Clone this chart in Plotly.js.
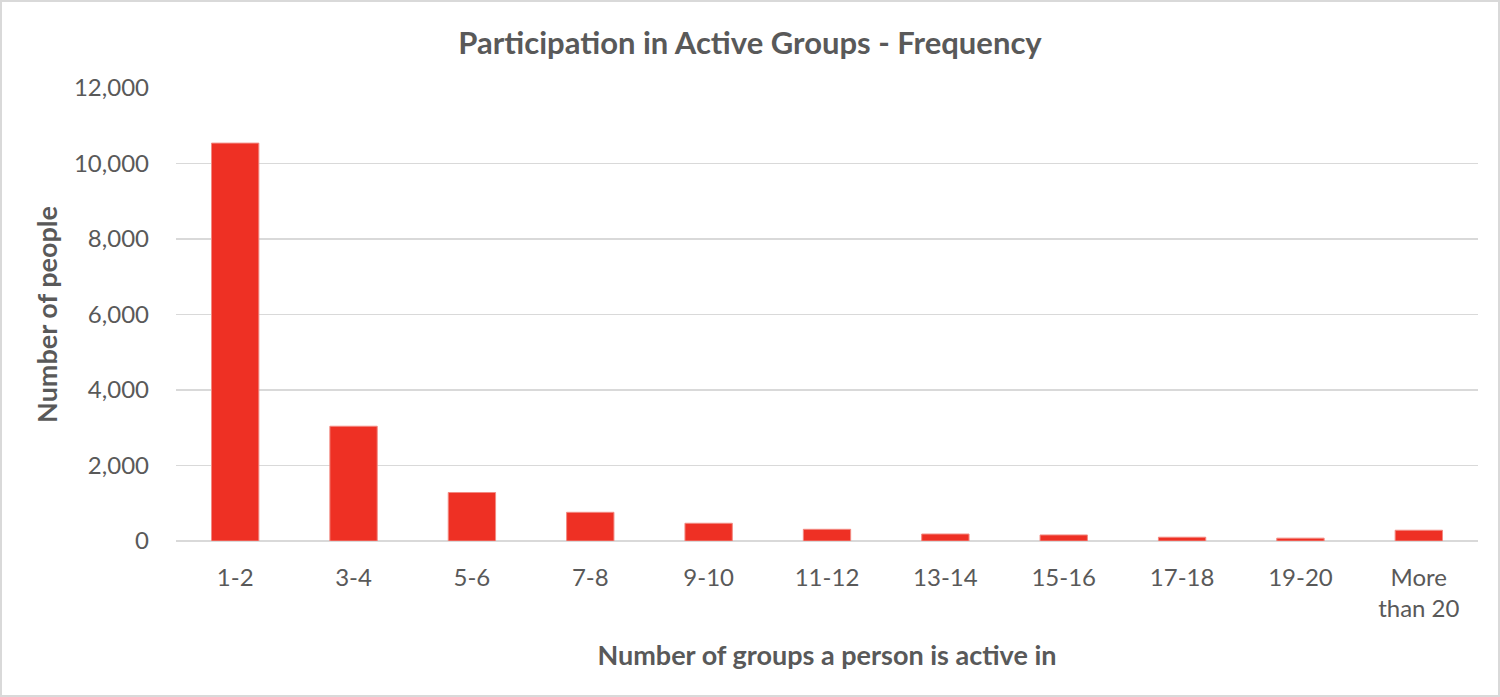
<!DOCTYPE html>
<html>
<head>
<meta charset="utf-8">
<script src="https://cdn.plot.ly/plotly-3.0.1.min.js"></script>
<style>
  body { margin: 0; background: #fff; }
  #chart { width: 1500px; height: 697px; box-sizing: border-box; border: 2px solid #d9d9d9; }
</style>
</head>
<body>
<div id="chart"></div>
<script>
const groupRanges = ['1-2', '3-4', '5-6', '7-8', '9-10', '11-12', '13-14', '15-16', '17-18', '19-20', 'More<br>than 20'];
const peopleCounts = [10540, 3040, 1285, 760, 470, 310, 185, 160, 100, 75, 285];
const yTicks = [0, 2000, 4000, 6000, 8000, 10000, 12000];

const textColor = '#595959';
const gridColor = '#d9d9d9';

const trace = {
    x: groupRanges,
    y: peopleCounts,
    type: 'bar',
    marker: { color: '#ee3024', line: { color: '#f28a82', width: 1 } },
    hoverinfo: 'x+y'
};

const layout = {
    width: 1496,
    height: 693,
    margin: { l: 174, r: 20, t: 86, b: 154 },
    paper_bgcolor: '#fff',
    plot_bgcolor: '#fff',
    font: { family: 'Lato, sans-serif', color: textColor, size: 24 },
    showlegend: false,
    bargap: 0.6,
    title: {
        text: '<b>Participation in Active Groups - Frequency</b>',
        font: { size: 31, color: textColor },
        x: 0.5, xanchor: 'center',
        y: 0.94, yanchor: 'middle'
    },
    xaxis: {
        type: 'category',
        showgrid: false,
        showline: false,
        zeroline: false,
        ticks: '',
        ticklabelstandoff: 20,
        tickfont: { size: 24, color: textColor },
        title: {
            text: '<b>Number of groups a person is active in</b>',
            font: { size: 27, color: textColor },
            standoff: 24
        }
    },
    yaxis: {
        range: [0, 12000],
        tickvals: yTicks,
        tickformat: ',d',
        showgrid: true,
        gridcolor: gridColor,
        gridwidth: 1.5,
        zeroline: true,
        zerolinecolor: gridColor,
        zerolinewidth: 2,
        showline: false,
        ticks: '',
        ticklabelstandoff: 26,
        tickfont: { size: 24, color: textColor },
        title: {
            text: '<b>Number of people</b>',
            font: { size: 27, color: textColor },
            standoff: 8
        }
    }
};

Plotly.newPlot('chart', [trace], layout, { displayModeBar: false, staticPlot: true });
</script>
</body>
</html>
